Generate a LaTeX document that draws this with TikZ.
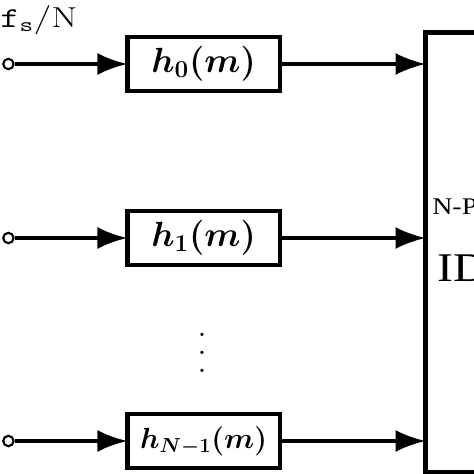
\documentclass[tikz,border=0pt]{standalone}
\usepackage{fontspec}
\usepackage{amsmath,amsfonts}
\usepackage{bm}
\usetikzlibrary{arrows.meta}
\newfontfamily\tnr{Liberation Serif}
\newcommand{\stretched}[1]{\scalebox{1.17}[1]{#1}}
\newcommand{\widebold}[1]{\scalebox{1.3}[1]{#1}}

\begin{document}
\begin{tikzpicture}[
    sig/.style={line width=2.5pt, -{Latex[length=0.75cm, width=0.55cm]}},
    port/.style={circle, draw, fill=white, line width=1.5pt, inner sep=0pt, minimum size=0.26cm},
    filt/.style={draw, line width=3.1pt, outer sep=0pt, inner sep=0pt,
        minimum width=3.81cm, minimum height=1.34cm, font=\fontsize{24.5}{28}\selectfont}
    ]
    %\draw[help lines] (0,0) grid (12,12);
    \useasboundingbox (0,0) rectangle (11.85,11.85);
    \clip (0,0) rectangle (11.85,11.85);

    \node[draw, line width=3.1pt, outer sep=0pt, inner sep=0pt, anchor=south west,
        minimum width=3cm, minimum height=10.99cm] (idft) at (10.64,0.05) {};
    \node[anchor=base west, inner sep=0pt, font=\fontsize{17}{20}\selectfont] (npoint) at (10.8,6.475) {\stretched{\tnr N-Point}};
    \node[anchor=base west, inner sep=0pt, font=\fontsize{29}{32}\selectfont] (idfttext) at (10.925,4.8) {\stretched{\tnr IDFT}};

    \node[anchor=base west, inner sep=0pt, font=\fontsize{20.5}{24}\selectfont] (rate) at (0,11.17) {\widebold{$\mathtt{f}_{\mathtt{s}}/\mathrm{N}$}};

    \node[port] (in0) at (0.21,10.25) {};
    \node[port] (in1) at (0.21,5.90) {};
    \node[port] (in2) at (0.21,0.825) {};

    \node[filt] (h0) at (5.09,10.25) {$\bm{h_0(m)}$};
    \node[filt] (h1) at (5.09,5.90) {$\bm{h_1(m)}$};
    \node[filt, font=\fontsize{19.7}{23}\selectfont] (h2) at (5.09,0.825) {$\bm{h_{N-1}(m)}$};

    \node[align=center, inner sep=0pt, font=\fontsize{28}{12.6}\selectfont] (dots) at (5.05,3.025) {.\\.\\.};

    \draw[sig] (in0) -- (h0);
    \draw[sig] (in1) -- (h1);
    \draw[sig] (in2) -- (h2);
    \draw[sig] (h0) -- (h0 -| idft.west);
    \draw[sig] (h1) -- (h1 -| idft.west);
    \draw[sig] (h2) -- (h2 -| idft.west);
\end{tikzpicture}
\end{document}
